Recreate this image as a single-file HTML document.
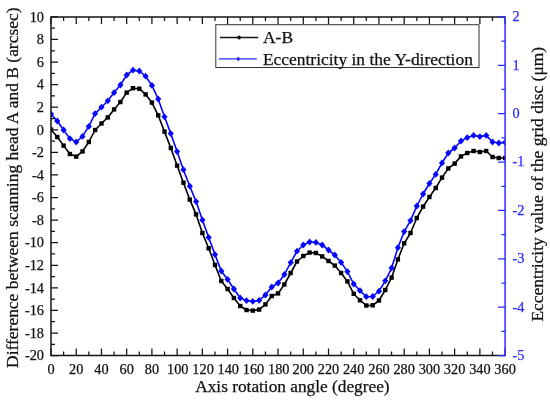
<!DOCTYPE html>
<html><head><meta charset="utf-8"><title>Chart</title>
<style>html,body{margin:0;padding:0;background:#fff;}body{width:550px;height:400px;overflow:hidden;}svg{display:block;}text{font-family:"Liberation Serif",serif;fill:#111;stroke:#111;stroke-width:0.25px;}</style></head><body>
<svg width="550" height="400" viewBox="0 0 550 400">
<rect width="550" height="400" fill="#fff"/>
<clipPath id="c"><rect x="51.0" y="16.9" width="454.1" height="338.70000000000005"/></clipPath><g clip-path="url(#c)">
<polyline points="51.0,129.6 57.3,137.0 63.6,145.6 69.9,154.0 76.2,156.6 82.5,151.4 88.8,142.0 95.1,130.0 101.5,123.5 107.8,117.4 114.1,109.4 120.4,102.0 126.7,92.6 133.0,88.2 139.3,88.7 145.6,94.4 151.9,102.6 158.2,115.3 164.5,131.6 170.8,148.0 177.1,165.6 183.4,182.7 189.8,199.6 196.1,214.4 202.4,233.0 208.7,248.3 215.0,265.0 221.3,281.0 227.6,289.0 233.9,298.0 240.2,306.0 246.5,310.0 252.8,310.6 259.1,309.6 265.4,304.4 271.7,296.0 278.1,293.4 284.4,284.5 290.7,273.0 297.0,261.5 303.3,256.0 309.6,252.6 315.9,253.0 322.2,256.4 328.5,261.0 334.8,265.6 341.1,273.0 347.4,281.4 353.7,293.8 360.0,300.3 366.3,305.5 372.7,305.3 379.0,300.5 385.3,290.0 391.6,277.6 397.9,259.4 404.2,243.3 410.5,233.0 416.8,218.0 423.1,206.6 429.4,197.0 435.7,188.0 442.0,177.6 448.3,168.4 454.6,163.6 461.0,156.4 467.3,153.0 473.6,151.0 479.9,152.0 486.2,151.0 492.5,157.0 498.8,158.0 505.1,158.0" fill="none" stroke="#000" stroke-width="1.6" stroke-linejoin="round"/>
<rect x="48.80" y="127.40" width="4.4" height="4.4" fill="#000"/>
<rect x="55.11" y="134.80" width="4.4" height="4.4" fill="#000"/>
<rect x="61.41" y="143.40" width="4.4" height="4.4" fill="#000"/>
<rect x="67.72" y="151.80" width="4.4" height="4.4" fill="#000"/>
<rect x="74.03" y="154.40" width="4.4" height="4.4" fill="#000"/>
<rect x="80.33" y="149.20" width="4.4" height="4.4" fill="#000"/>
<rect x="86.64" y="139.80" width="4.4" height="4.4" fill="#000"/>
<rect x="92.95" y="127.80" width="4.4" height="4.4" fill="#000"/>
<rect x="99.26" y="121.30" width="4.4" height="4.4" fill="#000"/>
<rect x="105.56" y="115.20" width="4.4" height="4.4" fill="#000"/>
<rect x="111.87" y="107.20" width="4.4" height="4.4" fill="#000"/>
<rect x="118.18" y="99.80" width="4.4" height="4.4" fill="#000"/>
<rect x="124.48" y="90.40" width="4.4" height="4.4" fill="#000"/>
<rect x="130.79" y="86.00" width="4.4" height="4.4" fill="#000"/>
<rect x="137.10" y="86.50" width="4.4" height="4.4" fill="#000"/>
<rect x="143.40" y="92.20" width="4.4" height="4.4" fill="#000"/>
<rect x="149.71" y="100.40" width="4.4" height="4.4" fill="#000"/>
<rect x="156.02" y="113.10" width="4.4" height="4.4" fill="#000"/>
<rect x="162.33" y="129.40" width="4.4" height="4.4" fill="#000"/>
<rect x="168.63" y="145.80" width="4.4" height="4.4" fill="#000"/>
<rect x="174.94" y="163.40" width="4.4" height="4.4" fill="#000"/>
<rect x="181.25" y="180.50" width="4.4" height="4.4" fill="#000"/>
<rect x="187.55" y="197.40" width="4.4" height="4.4" fill="#000"/>
<rect x="193.86" y="212.20" width="4.4" height="4.4" fill="#000"/>
<rect x="200.17" y="230.80" width="4.4" height="4.4" fill="#000"/>
<rect x="206.47" y="246.10" width="4.4" height="4.4" fill="#000"/>
<rect x="212.78" y="262.80" width="4.4" height="4.4" fill="#000"/>
<rect x="219.09" y="278.80" width="4.4" height="4.4" fill="#000"/>
<rect x="225.39" y="286.80" width="4.4" height="4.4" fill="#000"/>
<rect x="231.70" y="295.80" width="4.4" height="4.4" fill="#000"/>
<rect x="238.01" y="303.80" width="4.4" height="4.4" fill="#000"/>
<rect x="244.32" y="307.80" width="4.4" height="4.4" fill="#000"/>
<rect x="250.62" y="308.40" width="4.4" height="4.4" fill="#000"/>
<rect x="256.93" y="307.40" width="4.4" height="4.4" fill="#000"/>
<rect x="263.24" y="302.20" width="4.4" height="4.4" fill="#000"/>
<rect x="269.54" y="293.80" width="4.4" height="4.4" fill="#000"/>
<rect x="275.85" y="291.20" width="4.4" height="4.4" fill="#000"/>
<rect x="282.16" y="282.30" width="4.4" height="4.4" fill="#000"/>
<rect x="288.46" y="270.80" width="4.4" height="4.4" fill="#000"/>
<rect x="294.77" y="259.30" width="4.4" height="4.4" fill="#000"/>
<rect x="301.08" y="253.80" width="4.4" height="4.4" fill="#000"/>
<rect x="307.38" y="250.40" width="4.4" height="4.4" fill="#000"/>
<rect x="313.69" y="250.80" width="4.4" height="4.4" fill="#000"/>
<rect x="320.00" y="254.20" width="4.4" height="4.4" fill="#000"/>
<rect x="326.31" y="258.80" width="4.4" height="4.4" fill="#000"/>
<rect x="332.61" y="263.40" width="4.4" height="4.4" fill="#000"/>
<rect x="338.92" y="270.80" width="4.4" height="4.4" fill="#000"/>
<rect x="345.23" y="279.20" width="4.4" height="4.4" fill="#000"/>
<rect x="351.53" y="291.60" width="4.4" height="4.4" fill="#000"/>
<rect x="357.84" y="298.10" width="4.4" height="4.4" fill="#000"/>
<rect x="364.15" y="303.30" width="4.4" height="4.4" fill="#000"/>
<rect x="370.45" y="303.10" width="4.4" height="4.4" fill="#000"/>
<rect x="376.76" y="298.30" width="4.4" height="4.4" fill="#000"/>
<rect x="383.07" y="287.80" width="4.4" height="4.4" fill="#000"/>
<rect x="389.38" y="275.40" width="4.4" height="4.4" fill="#000"/>
<rect x="395.68" y="257.20" width="4.4" height="4.4" fill="#000"/>
<rect x="401.99" y="241.10" width="4.4" height="4.4" fill="#000"/>
<rect x="408.30" y="230.80" width="4.4" height="4.4" fill="#000"/>
<rect x="414.60" y="215.80" width="4.4" height="4.4" fill="#000"/>
<rect x="420.91" y="204.40" width="4.4" height="4.4" fill="#000"/>
<rect x="427.22" y="194.80" width="4.4" height="4.4" fill="#000"/>
<rect x="433.52" y="185.80" width="4.4" height="4.4" fill="#000"/>
<rect x="439.83" y="175.40" width="4.4" height="4.4" fill="#000"/>
<rect x="446.14" y="166.20" width="4.4" height="4.4" fill="#000"/>
<rect x="452.44" y="161.40" width="4.4" height="4.4" fill="#000"/>
<rect x="458.75" y="154.20" width="4.4" height="4.4" fill="#000"/>
<rect x="465.06" y="150.80" width="4.4" height="4.4" fill="#000"/>
<rect x="471.37" y="148.80" width="4.4" height="4.4" fill="#000"/>
<rect x="477.67" y="149.80" width="4.4" height="4.4" fill="#000"/>
<rect x="483.98" y="148.80" width="4.4" height="4.4" fill="#000"/>
<rect x="490.29" y="154.80" width="4.4" height="4.4" fill="#000"/>
<rect x="496.59" y="155.80" width="4.4" height="4.4" fill="#000"/>
<rect x="502.90" y="155.80" width="4.4" height="4.4" fill="#000"/>
</g><g clip-path="url(#c)">
<polyline points="51.0,114.0 57.3,121.0 63.6,130.0 69.9,138.6 76.2,142.0 82.5,136.4 88.8,126.4 95.1,113.6 101.5,107.2 107.8,100.8 114.1,92.6 120.4,85.0 126.7,75.0 133.0,70.2 139.3,71.0 145.6,76.2 151.9,85.4 158.2,99.0 164.5,116.8 170.8,133.6 177.1,151.6 183.4,169.7 189.8,186.2 196.1,201.6 202.4,220.0 208.7,237.4 215.0,254.6 221.3,271.0 227.6,279.4 233.9,289.0 240.2,298.0 246.5,300.6 252.8,301.4 259.1,300.4 265.4,295.0 271.7,287.0 278.1,283.0 284.4,274.5 290.7,262.6 297.0,251.2 303.3,245.0 309.6,242.0 315.9,242.4 322.2,245.0 328.5,250.0 334.8,255.0 341.1,262.4 347.4,271.6 353.7,284.0 360.0,290.6 366.3,296.7 372.7,296.5 379.0,291.2 385.3,280.8 391.6,268.0 397.9,247.7 404.2,231.6 410.5,220.6 416.8,206.0 423.1,194.0 429.4,183.5 435.7,174.4 442.0,163.0 448.3,153.0 454.6,148.0 461.0,141.0 467.3,137.6 473.6,135.4 479.9,136.6 486.2,135.4 492.5,142.0 498.8,143.0 505.1,142.4" fill="none" stroke="#0606ff" stroke-width="1.6" stroke-linejoin="round"/>
<path d="M51.0 110.6L54.1 114.0L51.0 117.4L47.9 114.0Z" fill="#0606ff"/>
<path d="M57.3 117.6L60.4 121.0L57.3 124.4L54.2 121.0Z" fill="#0606ff"/>
<path d="M63.6 126.6L66.7 130.0L63.6 133.4L60.5 130.0Z" fill="#0606ff"/>
<path d="M69.9 135.2L73.0 138.6L69.9 142.0L66.8 138.6Z" fill="#0606ff"/>
<path d="M76.2 138.6L79.3 142.0L76.2 145.4L73.1 142.0Z" fill="#0606ff"/>
<path d="M82.5 133.0L85.6 136.4L82.5 139.8L79.4 136.4Z" fill="#0606ff"/>
<path d="M88.8 123.0L91.9 126.4L88.8 129.8L85.7 126.4Z" fill="#0606ff"/>
<path d="M95.1 110.2L98.2 113.6L95.1 117.0L92.0 113.6Z" fill="#0606ff"/>
<path d="M101.5 103.8L104.6 107.2L101.5 110.6L98.4 107.2Z" fill="#0606ff"/>
<path d="M107.8 97.4L110.9 100.8L107.8 104.2L104.7 100.8Z" fill="#0606ff"/>
<path d="M114.1 89.2L117.2 92.6L114.1 96.0L111.0 92.6Z" fill="#0606ff"/>
<path d="M120.4 81.6L123.5 85.0L120.4 88.4L117.3 85.0Z" fill="#0606ff"/>
<path d="M126.7 71.6L129.8 75.0L126.7 78.4L123.6 75.0Z" fill="#0606ff"/>
<path d="M133.0 66.8L136.1 70.2L133.0 73.6L129.9 70.2Z" fill="#0606ff"/>
<path d="M139.3 67.6L142.4 71.0L139.3 74.4L136.2 71.0Z" fill="#0606ff"/>
<path d="M145.6 72.8L148.7 76.2L145.6 79.6L142.5 76.2Z" fill="#0606ff"/>
<path d="M151.9 82.0L155.0 85.4L151.9 88.8L148.8 85.4Z" fill="#0606ff"/>
<path d="M158.2 95.6L161.3 99.0L158.2 102.4L155.1 99.0Z" fill="#0606ff"/>
<path d="M164.5 113.4L167.6 116.8L164.5 120.2L161.4 116.8Z" fill="#0606ff"/>
<path d="M170.8 130.2L173.9 133.6L170.8 137.0L167.7 133.6Z" fill="#0606ff"/>
<path d="M177.1 148.2L180.2 151.6L177.1 155.0L174.0 151.6Z" fill="#0606ff"/>
<path d="M183.4 166.3L186.5 169.7L183.4 173.1L180.3 169.7Z" fill="#0606ff"/>
<path d="M189.8 182.8L192.9 186.2L189.8 189.6L186.7 186.2Z" fill="#0606ff"/>
<path d="M196.1 198.2L199.2 201.6L196.1 205.0L193.0 201.6Z" fill="#0606ff"/>
<path d="M202.4 216.6L205.5 220.0L202.4 223.4L199.3 220.0Z" fill="#0606ff"/>
<path d="M208.7 234.0L211.8 237.4L208.7 240.8L205.6 237.4Z" fill="#0606ff"/>
<path d="M215.0 251.2L218.1 254.6L215.0 258.0L211.9 254.6Z" fill="#0606ff"/>
<path d="M221.3 267.6L224.4 271.0L221.3 274.4L218.2 271.0Z" fill="#0606ff"/>
<path d="M227.6 276.0L230.7 279.4L227.6 282.8L224.5 279.4Z" fill="#0606ff"/>
<path d="M233.9 285.6L237.0 289.0L233.9 292.4L230.8 289.0Z" fill="#0606ff"/>
<path d="M240.2 294.6L243.3 298.0L240.2 301.4L237.1 298.0Z" fill="#0606ff"/>
<path d="M246.5 297.2L249.6 300.6L246.5 304.0L243.4 300.6Z" fill="#0606ff"/>
<path d="M252.8 298.0L255.9 301.4L252.8 304.8L249.7 301.4Z" fill="#0606ff"/>
<path d="M259.1 297.0L262.2 300.4L259.1 303.8L256.0 300.4Z" fill="#0606ff"/>
<path d="M265.4 291.6L268.5 295.0L265.4 298.4L262.3 295.0Z" fill="#0606ff"/>
<path d="M271.7 283.6L274.8 287.0L271.7 290.4L268.6 287.0Z" fill="#0606ff"/>
<path d="M278.1 279.6L281.2 283.0L278.1 286.4L274.9 283.0Z" fill="#0606ff"/>
<path d="M284.4 271.1L287.5 274.5L284.4 277.9L281.3 274.5Z" fill="#0606ff"/>
<path d="M290.7 259.2L293.8 262.6L290.7 266.0L287.6 262.6Z" fill="#0606ff"/>
<path d="M297.0 247.8L300.1 251.2L297.0 254.6L293.9 251.2Z" fill="#0606ff"/>
<path d="M303.3 241.6L306.4 245.0L303.3 248.4L300.2 245.0Z" fill="#0606ff"/>
<path d="M309.6 238.6L312.7 242.0L309.6 245.4L306.5 242.0Z" fill="#0606ff"/>
<path d="M315.9 239.0L319.0 242.4L315.9 245.8L312.8 242.4Z" fill="#0606ff"/>
<path d="M322.2 241.6L325.3 245.0L322.2 248.4L319.1 245.0Z" fill="#0606ff"/>
<path d="M328.5 246.6L331.6 250.0L328.5 253.4L325.4 250.0Z" fill="#0606ff"/>
<path d="M334.8 251.6L337.9 255.0L334.8 258.4L331.7 255.0Z" fill="#0606ff"/>
<path d="M341.1 259.0L344.2 262.4L341.1 265.8L338.0 262.4Z" fill="#0606ff"/>
<path d="M347.4 268.2L350.5 271.6L347.4 275.0L344.3 271.6Z" fill="#0606ff"/>
<path d="M353.7 280.6L356.8 284.0L353.7 287.4L350.6 284.0Z" fill="#0606ff"/>
<path d="M360.0 287.2L363.1 290.6L360.0 294.0L356.9 290.6Z" fill="#0606ff"/>
<path d="M366.3 293.3L369.4 296.7L366.3 300.1L363.2 296.7Z" fill="#0606ff"/>
<path d="M372.7 293.1L375.8 296.5L372.7 299.9L369.6 296.5Z" fill="#0606ff"/>
<path d="M379.0 287.8L382.1 291.2L379.0 294.6L375.9 291.2Z" fill="#0606ff"/>
<path d="M385.3 277.4L388.4 280.8L385.3 284.2L382.2 280.8Z" fill="#0606ff"/>
<path d="M391.6 264.6L394.7 268.0L391.6 271.4L388.5 268.0Z" fill="#0606ff"/>
<path d="M397.9 244.3L401.0 247.7L397.9 251.1L394.8 247.7Z" fill="#0606ff"/>
<path d="M404.2 228.2L407.3 231.6L404.2 235.0L401.1 231.6Z" fill="#0606ff"/>
<path d="M410.5 217.2L413.6 220.6L410.5 224.0L407.4 220.6Z" fill="#0606ff"/>
<path d="M416.8 202.6L419.9 206.0L416.8 209.4L413.7 206.0Z" fill="#0606ff"/>
<path d="M423.1 190.6L426.2 194.0L423.1 197.4L420.0 194.0Z" fill="#0606ff"/>
<path d="M429.4 180.1L432.5 183.5L429.4 186.9L426.3 183.5Z" fill="#0606ff"/>
<path d="M435.7 171.0L438.8 174.4L435.7 177.8L432.6 174.4Z" fill="#0606ff"/>
<path d="M442.0 159.6L445.1 163.0L442.0 166.4L438.9 163.0Z" fill="#0606ff"/>
<path d="M448.3 149.6L451.4 153.0L448.3 156.4L445.2 153.0Z" fill="#0606ff"/>
<path d="M454.6 144.6L457.7 148.0L454.6 151.4L451.5 148.0Z" fill="#0606ff"/>
<path d="M461.0 137.6L464.1 141.0L461.0 144.4L457.9 141.0Z" fill="#0606ff"/>
<path d="M467.3 134.2L470.4 137.6L467.3 141.0L464.2 137.6Z" fill="#0606ff"/>
<path d="M473.6 132.0L476.7 135.4L473.6 138.8L470.5 135.4Z" fill="#0606ff"/>
<path d="M479.9 133.2L483.0 136.6L479.9 140.0L476.8 136.6Z" fill="#0606ff"/>
<path d="M486.2 132.0L489.3 135.4L486.2 138.8L483.1 135.4Z" fill="#0606ff"/>
<path d="M492.5 138.6L495.6 142.0L492.5 145.4L489.4 142.0Z" fill="#0606ff"/>
<path d="M498.8 139.6L501.9 143.0L498.8 146.4L495.7 143.0Z" fill="#0606ff"/>
<path d="M505.1 139.0L508.2 142.4L505.1 145.8L502.0 142.4Z" fill="#0606ff"/>
</g>
<path d="M51.00 355.6v-7 M51.00 16.9v7 M63.61 355.6v-4 M63.61 16.9v4 M76.23 355.6v-7 M76.23 16.9v7 M88.84 355.6v-4 M88.84 16.9v4 M101.46 355.6v-7 M101.46 16.9v7 M114.07 355.6v-4 M114.07 16.9v4 M126.68 355.6v-7 M126.68 16.9v7 M139.30 355.6v-4 M139.30 16.9v4 M151.91 355.6v-7 M151.91 16.9v7 M164.53 355.6v-4 M164.53 16.9v4 M177.14 355.6v-7 M177.14 16.9v7 M189.75 355.6v-4 M189.75 16.9v4 M202.37 355.6v-7 M202.37 16.9v7 M214.98 355.6v-4 M214.98 16.9v4 M227.59 355.6v-7 M227.59 16.9v7 M240.21 355.6v-4 M240.21 16.9v4 M252.82 355.6v-7 M252.82 16.9v7 M265.44 355.6v-4 M265.44 16.9v4 M278.05 355.6v-7 M278.05 16.9v7 M290.66 355.6v-4 M290.66 16.9v4 M303.28 355.6v-7 M303.28 16.9v7 M315.89 355.6v-4 M315.89 16.9v4 M328.51 355.6v-7 M328.51 16.9v7 M341.12 355.6v-4 M341.12 16.9v4 M353.73 355.6v-7 M353.73 16.9v7 M366.35 355.6v-4 M366.35 16.9v4 M378.96 355.6v-7 M378.96 16.9v7 M391.58 355.6v-4 M391.58 16.9v4 M404.19 355.6v-7 M404.19 16.9v7 M416.80 355.6v-4 M416.80 16.9v4 M429.42 355.6v-7 M429.42 16.9v7 M442.03 355.6v-4 M442.03 16.9v4 M454.64 355.6v-7 M454.64 16.9v7 M467.26 355.6v-4 M467.26 16.9v4 M479.87 355.6v-7 M479.87 16.9v7 M492.49 355.6v-4 M492.49 16.9v4 M505.10 355.6v-7 M505.10 16.9v7 M51.0 16.90h7 M51.0 28.19h4 M51.0 39.48h7 M51.0 50.77h4 M51.0 62.06h7 M51.0 73.35h4 M51.0 84.64h7 M51.0 95.93h4 M51.0 107.22h7 M51.0 118.51h4 M51.0 129.80h7 M51.0 141.09h4 M51.0 152.38h7 M51.0 163.67h4 M51.0 174.96h7 M51.0 186.25h4 M51.0 197.54h7 M51.0 208.83h4 M51.0 220.12h7 M51.0 231.41h4 M51.0 242.70h7 M51.0 253.99h4 M51.0 265.28h7 M51.0 276.57h4 M51.0 287.86h7 M51.0 299.15h4 M51.0 310.44h7 M51.0 321.73h4 M51.0 333.02h7 M51.0 344.31h4 M51.0 355.60h7" stroke="#141414" stroke-width="1.25" fill="none"/>
<path d="M51.0 16.15V356.35M50.25 355.6H505.1M50.25 16.9H505.1" stroke="#141414" stroke-width="1.5" fill="none"/>
<path d="M505.1 16.90h-7.1 M505.1 41.09h-3.7 M505.1 65.29h-7.1 M505.1 89.48h-3.7 M505.1 113.67h-7.1 M505.1 137.86h-3.7 M505.1 162.06h-7.1 M505.1 186.25h-3.7 M505.1 210.44h-7.1 M505.1 234.64h-3.7 M505.1 258.83h-7.1 M505.1 283.02h-3.7 M505.1 307.21h-7.1 M505.1 331.41h-3.7 M505.1 355.60h-7.1" stroke="#2a2aff" stroke-width="1.25" fill="none"/>
<path d="M505.1 16.15V356.35" stroke="#2a2aff" stroke-width="1.5" fill="none"/>
<g font-size="14.3" text-anchor="middle">
<text x="51.0" y="374.2">0</text>
<text x="76.2" y="374.2">20</text>
<text x="101.5" y="374.2">40</text>
<text x="126.7" y="374.2">60</text>
<text x="151.9" y="374.2">80</text>
<text x="177.8" y="374.2">100</text>
<text x="203.1" y="374.2">120</text>
<text x="228.3" y="374.2">140</text>
<text x="253.5" y="374.2">160</text>
<text x="278.8" y="374.2">180</text>
<text x="303.3" y="374.2">200</text>
<text x="328.5" y="374.2">220</text>
<text x="353.7" y="374.2">240</text>
<text x="379.0" y="374.2">260</text>
<text x="404.2" y="374.2">280</text>
<text x="429.4" y="374.2">300</text>
<text x="454.6" y="374.2">320</text>
<text x="479.9" y="374.2">340</text>
<text x="505.1" y="374.2">360</text>
</g>
<g font-size="14.3" text-anchor="end">
<text x="44" y="21.6">10</text>
<text x="44" y="44.2">8</text>
<text x="44" y="66.8">6</text>
<text x="44" y="89.3">4</text>
<text x="44" y="111.9">2</text>
<text x="44" y="134.5">0</text>
<text x="44" y="157.1">-2</text>
<text x="44" y="179.7">-4</text>
<text x="44" y="202.2">-6</text>
<text x="44" y="224.8">-8</text>
<text x="44" y="247.4">-10</text>
<text x="44" y="270.0">-12</text>
<text x="44" y="292.6">-14</text>
<text x="44" y="315.1">-16</text>
<text x="44" y="337.7">-18</text>
<text x="44" y="360.3">-20</text>
</g>
<g font-size="14.3" text-anchor="start" style="fill:#2a2aff">
<text x="512.4" y="21.2" style="fill:#2a2aff;stroke:#2a2aff">2</text>
<text x="512.4" y="69.6" style="fill:#2a2aff;stroke:#2a2aff">1</text>
<text x="512.4" y="118.0" style="fill:#2a2aff;stroke:#2a2aff">0</text>
<text x="512.4" y="166.4" style="fill:#2a2aff;stroke:#2a2aff">-1</text>
<text x="512.4" y="214.7" style="fill:#2a2aff;stroke:#2a2aff">-2</text>
<text x="512.4" y="263.1" style="fill:#2a2aff;stroke:#2a2aff">-3</text>
<text x="512.4" y="311.5" style="fill:#2a2aff;stroke:#2a2aff">-4</text>
<text x="512.4" y="359.9" style="fill:#2a2aff;stroke:#2a2aff">-5</text>
</g>
<text x="292.4" y="392" font-size="17.3" text-anchor="middle">Axis rotation angle (degree)</text>
<text transform="translate(18,187.7) rotate(-90)" font-size="17.45" text-anchor="middle">Difference between scanning head A and B (arcsec)</text>
<text transform="translate(543,184.2) rotate(-90)" font-size="17.45" text-anchor="middle">Eccentricity value of the grid disc (μm)</text>
<rect x="215.8" y="24.7" width="263.2" height="42.8" fill="#fff" stroke="#333" stroke-width="1"/>
<path d="M220 37.5H258.2" stroke="#141414" stroke-width="1.3"/><circle cx="239.1" cy="37.5" r="1.9" fill="#141414"/>
<path d="M218.8 58.9H256.8" stroke="#2a2aff" stroke-width="1.4"/><path d="M238.3 56.5l2 2.4l-2 2.4l-2 -2.4z" fill="#2a2aff"/>
<text x="263" y="43.2" font-size="17.45">A-B</text>
<text x="262.9" y="64.5" font-size="17.45">Eccentricity in the Y-direction</text>
</svg></body></html>
